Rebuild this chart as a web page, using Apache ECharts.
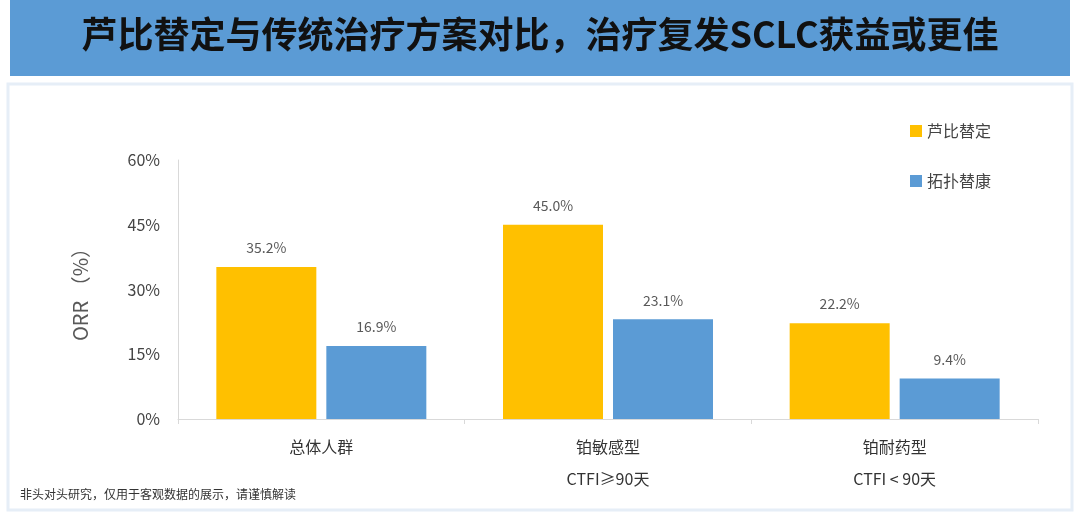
<!DOCTYPE html>
<html><head><meta charset="utf-8">
<script src="https://cdn.jsdelivr.net/npm/echarts@6/dist/echarts.min.js"></script>
<style>html,body{margin:0;padding:0;background:#fff;}#c{width:1080px;height:532px;}</style>
</head><body><div id="c"></div>
<script>
const categories = ['总体人群', '铂敏感型\n\nCTFI≥90天', '铂耐药型\n\nCTFI < 90天'];
const lurbinectedin = [35.2, 45.0, 22.2];
const topotecan = [16.9, 23.1, 9.4];
const yTicks = [0, 15, 30, 45, 60];
const F = '"Noto Sans CJK SC", "Noto Sans", sans-serif';
const chart = echarts.init(document.getElementById('c'));
chart.setOption({
  animation: false,
  graphic: [
    {type:'rect', shape:{x:10,y:0,width:1060,height:76}, style:{fill:'#5b9bd5'}, z:0},
    {type:'rect', shape:{x:8,y:84,width:1064,height:426}, style:{fill:'#fff', stroke:'#e6eef7', lineWidth:3}, z:0},
    {type:'text', left:'center', top:16, style:{text:'芦比替定与传统治疗方案对比，治疗复发SCLC获益或更佳', font:'bold 36px '+F, fill:'#111'}, z:2},
    {type:'text', left:20, top:488, style:{text:'非头对头研究，仅用于客观数据的展示，请谨慎解读', font:'12px '+F, fill:'#333'}, z:2}
  ],
  legend: {
    orient:'vertical', left:905, top:118, itemGap:34, itemWidth:12, itemHeight:12,
    textStyle:{fontSize:16, color:'#444', fontFamily:F},
    data:[{name:'芦比替定', icon:'rect'},{name:'拓扑替康', icon:'rect'}]
  },
  grid:{left:178, right:42, top:160, bottom:113},
  xAxis:{type:'category', data:categories,
    axisLine:{lineStyle:{color:'#d9d9d9'}}, axisTick:{show:true, length:5, lineStyle:{color:'#d9d9d9'}},
    axisLabel:{fontSize:16, color:'#333', fontFamily:F, margin:20, lineHeight:16}},
  yAxis:{type:'value', min:0, max:60, interval:15,
    name:'ORR （%）', nameLocation:'middle', nameGap:88, nameRotate:90,
    nameTextStyle:{fontSize:20, color:'#595959', fontFamily:F},
    axisLine:{show:true, lineStyle:{color:'#d9d9d9'}}, axisTick:{show:false}, splitLine:{show:false},
    axisLabel:{fontSize:16, color:'#444', fontFamily:F, margin:18, formatter: v => yTicks.includes(v) ? v+'%' : ''}},
  series:[
    {name:'芦比替定', type:'bar', data:lurbinectedin, barWidth:100, barGap:'10%', itemStyle:{color:'#ffc000'},
      label:{show:true, position:'top', distance:12, formatter: p => p.value.toFixed(1)+'%', fontSize:14, color:'#595959', fontFamily:F}},
    {name:'拓扑替康', type:'bar', data:topotecan, barWidth:100, itemStyle:{color:'#5b9bd5'},
      label:{show:true, position:'top', distance:12, formatter: p => p.value.toFixed(1)+'%', fontSize:14, color:'#595959', fontFamily:F}}
  ]
});
</script></body></html>
